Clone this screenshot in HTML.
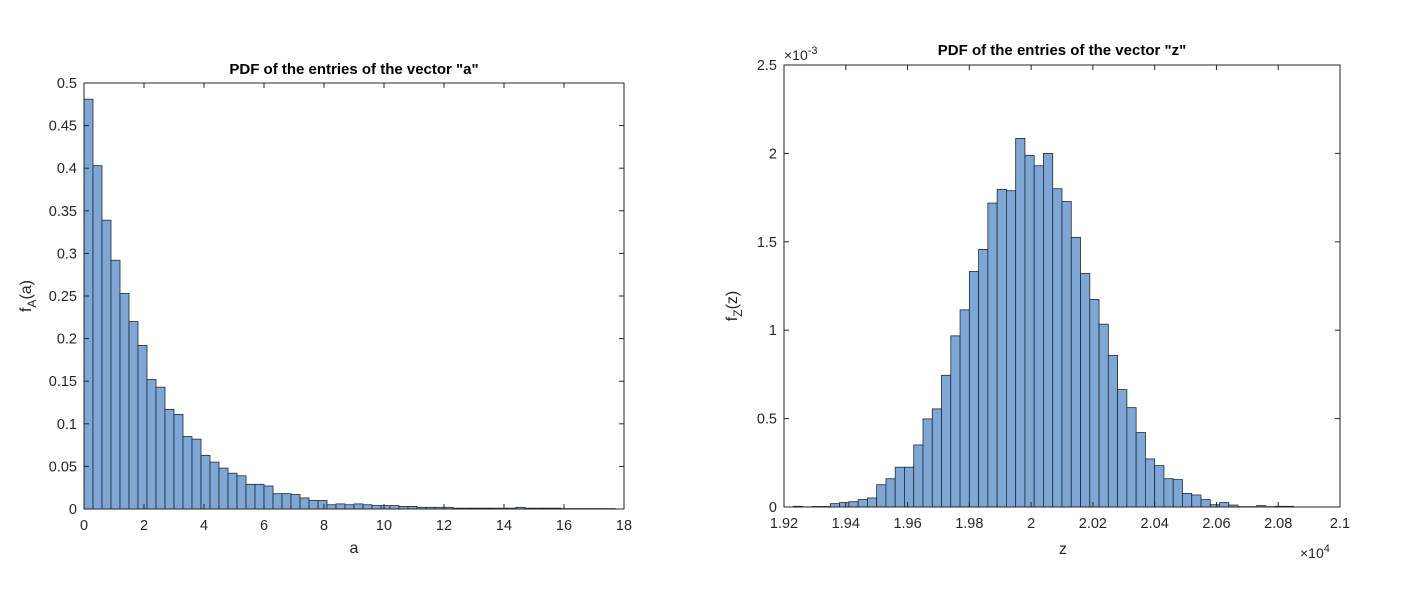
<!DOCTYPE html>
<html><head><meta charset="utf-8"><style>
body{margin:0;background:#fff;}
svg{display:block;font-family:"Liberation Sans",Arial,sans-serif;}
</style></head><body>
<svg id="s" width="1414" height="594" viewBox="0 0 1414 594"></svg>
<script>
const aStart=0, aWidth=0.3;
const aValues=[0.481,0.403,0.339,0.292,0.253,0.220,0.192,0.152,0.143,0.117,0.111,0.085,0.082,0.063,0.055,0.048,0.042,0.039,0.029,0.029,0.027,0.018,0.018,0.017,0.013,0.010,0.010,0.005,0.006,0.005,0.006,0.005,0.004,0.004,0.004,0.003,0.003,0.002,0.002,0.002,0.002,0.001,0.001,0.001,0.001,0.001,0.001,0.001,0.002,0.001,0.001,0.001,0.001,0.0005,0.0005,0.0005,0.0005,0.0005,0.0005];
const aXTicks=[0,2,4,6,8,10,12,14,16,18];
const aYTicks=[0,0.05,0.1,0.15,0.2,0.25,0.3,0.35,0.4,0.45,0.5];
const aYLabels=["0","0.05","0.1","0.15","0.2","0.25","0.3","0.35","0.4","0.45","0.5"];
const zStart=1.923, zWidth=0.003;
const zValues=[0.004,0.001,0.003,0.003,0.019,0.025,0.030,0.042,0.051,0.126,0.160,0.225,0.225,0.351,0.498,0.555,0.745,0.968,1.115,1.332,1.457,1.719,1.796,1.789,2.085,1.989,1.930,2.000,1.800,1.728,1.525,1.321,1.174,1.034,0.857,0.664,0.562,0.421,0.272,0.234,0.160,0.155,0.077,0.068,0.042,0.013,0.025,0.011,0.002,0.002,0.008,0.002,0.004,0.004];
const zXTicks=[1.92,1.94,1.96,1.98,2,2.02,2.04,2.06,2.08,2.1];
const zYTicks=[0,0.5,1,1.5,2,2.5];
const NS="http://www.w3.org/2000/svg";
const svg=document.getElementById('s');
function mk(tag,at,parent,txt){const e=document.createElementNS(NS,tag);for(const k in at)e.setAttribute(k,at[k]);if(txt!==undefined)e.textContent=txt;(parent||svg).appendChild(e);return e;}
function chart(o){
  const g=mk('g',{});
  
  
  const X=v=>o.L+(v-o.x0)/(o.x1-o.x0)*(o.R-o.L);
  const Y=v=>o.B-(v-o.y0)/(o.y1-o.y0)*(o.B-o.T);
  o.vals.forEach((v,i)=>{
    const xa=X(o.start+i*o.w), xb=X(o.start+(i+1)*o.w);
    const r=mk('rect',{x:xa,y:Y(v),width:xb-xa,height:o.B-Y(v),fill:'#7ea7d6',stroke:'#1f2a36','stroke-width':0.8},g);
    
    
  });
  const box=mk('rect',{x:o.L,y:o.T,width:o.R-o.L,height:o.B-o.T,fill:'none',stroke:'#262626','stroke-width':1},g);
  
  
  o.xt.forEach((t,i)=>{
    const x=X(t);
    mk('line',{x1:x,x2:x,y1:o.B,y2:o.B-5,stroke:'#262626'},g);
    mk('line',{x1:x,x2:x,y1:o.T,y2:o.T+5,stroke:'#262626'},g);
    const tx=mk('text',{x:x,y:o.B+21,'text-anchor':'middle','font-size':14.5,fill:'#262626'},g,o.xl?o.xl[i]:String(t));
    
    
  });
  o.yt.forEach((t,i)=>{
    const y=Y(t);
    mk('line',{x1:o.L,x2:o.L+5,y1:y,y2:y,stroke:'#262626'},g);
    mk('line',{x1:o.R,x2:o.R-5,y1:y,y2:y,stroke:'#262626'},g);
    const tx=mk('text',{x:o.L-7,y:y+5,'text-anchor':'end','font-size':14.5,fill:'#262626'},g,o.yl?o.yl[i]:String(t));
    
    
  });
}
chart({name:'chart-a',L:84,R:624,T:83,B:509,x0:0,x1:18,y0:0,y1:0.5,vals:aValues,start:aStart,w:aWidth,xt:aXTicks,yt:aYTicks,yl:aYLabels});
chart({name:'chart-z',L:784,R:1340,T:65,B:507,x0:1.92,x1:2.1,y0:0,y1:2.5,vals:zValues,start:zStart,w:zWidth,xt:zXTicks,yt:zYTicks});
</script>
<div style="position:absolute;left:0;top:0;width:1414px;height:594px;pointer-events:none">
<svg width="1414" height="594" style="font-family:'Liberation Sans',Arial,sans-serif">
<text x="354" y="74" text-anchor="middle" font-size="15" font-weight="bold" fill="#000">PDF of the entries of the vector "a"</text>
<text x="354" y="553" text-anchor="middle" font-size="16" fill="#262626">a</text>
<text transform="translate(31,296) rotate(-90)" text-anchor="middle" font-size="16" fill="#262626">f<tspan font-size="12" dy="5">A</tspan><tspan dy="-5">(a)</tspan></text>
<text x="1062" y="55" text-anchor="middle" font-size="15" font-weight="bold" fill="#000">PDF of the entries of the vector "z"</text>
<text x="784" y="60" font-size="14" fill="#262626">×10<tspan font-size="11" dy="-6">-3</tspan></text>
<text x="1063" y="554" text-anchor="middle" font-size="16" fill="#262626">z</text>
<text x="1300" y="558" font-size="14" fill="#262626">×10<tspan font-size="11" dy="-6">4</tspan></text>
<text transform="translate(737,306) rotate(-90)" text-anchor="middle" font-size="16" fill="#262626">f<tspan font-size="12" dy="5">Z</tspan><tspan dy="-5">(z)</tspan></text>
</svg></div>
</body></html>
